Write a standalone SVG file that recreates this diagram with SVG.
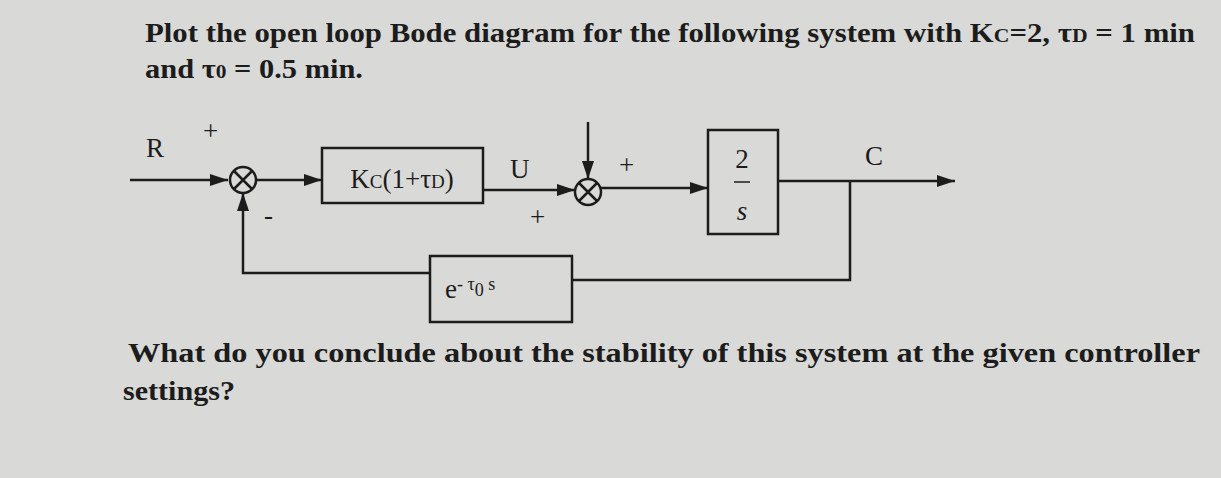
<svg xmlns="http://www.w3.org/2000/svg" width="1221" height="478" viewBox="0 0 1221 478">
<defs>
<marker id="ah2" viewBox="0 0 18 12" markerWidth="18" markerHeight="12" refX="18" refY="6" orient="auto" markerUnits="userSpaceOnUse"><path d="M0,0 L18,6 L0,12 Z" fill="#1c1c1c"/></marker>
</defs>
<style>
text{font-family:"Liberation Serif","DejaVu Serif",serif;fill:#1c1c1c}
.q{font-size:27px;font-weight:bold}
.l{font-size:27px}
.b{fill:none;stroke:#1c1c1c;stroke-width:2.5}
.w{fill:none;stroke:#1c1c1c;stroke-width:2.5}
</style>
<rect width="1221" height="478" fill="#d9d9d7"/>
<text class="q" x="145" y="42" textLength="1050" lengthAdjust="spacingAndGlyphs">Plot the open loop Bode diagram for the following system with K<tspan font-size="19">C</tspan>=2, τ<tspan font-size="19">D</tspan> = 1 min</text>
<text class="q" x="145" y="78" textLength="218" lengthAdjust="spacingAndGlyphs">and τ<tspan font-size="19">0</tspan>  = 0.5 min.</text>
<g id="connectors">
<path class="w" d="M130,180 H228" marker-end="url(#ah2)"/>
<path class="w" d="M256,180 H322" marker-end="url(#ah2)"/>
<path class="w" d="M483,190 H575" marker-end="url(#ah2)"/>
<path class="w" d="M588,122 V179" marker-end="url(#ah2)"/>
<path class="w" d="M601,188 H708" marker-end="url(#ah2)"/>
<path class="w" d="M778,181 H955" marker-end="url(#ah2)"/>
<path class="w" d="M850,181 V280 H572"/>
<path class="w" d="M430,273 H243 V193" marker-end="url(#ah2)"/>
</g>
<g id="sum1"><circle class="b" cx="243" cy="180" r="13"/><path class="b" d="M234,171 L252,189 M252,171 L234,189"/></g>
<g id="sum2"><circle class="b" cx="588" cy="192" r="13"/><path class="b" d="M579,183 L597,201 M597,183 L579,201"/></g>
<g id="controller"><rect class="b" x="322" y="148" width="161" height="55"/><text class="l" x="402" y="188" text-anchor="middle" font-size="28">K<tspan font-size="19">C</tspan>(1+τ<tspan font-size="19">D</tspan>)</text></g>
<g id="plant"><rect class="b" x="708" y="130" width="70" height="104"/><text class="l" x="742" y="168" text-anchor="middle">2</text><path d="M734,182 H750" stroke="#1c1c1c" stroke-width="1.5"/><text class="l" x="742" y="220" text-anchor="middle" font-style="italic">s</text></g>
<g id="delay"><rect class="b" x="430" y="256" width="142" height="66"/><text class="l" x="445" y="298">e<tspan font-size="18" dy="-8">- </tspan><tspan font-size="18">τ</tspan><tspan font-size="18" dy="6">0</tspan><tspan font-size="18" dy="-6"> s</tspan></text></g>
<text class="l" x="146" y="157">R</text>
<text class="l" x="203" y="140">+</text>
<text class="l" x="264" y="224">-</text>
<text class="l" x="510" y="178">U</text>
<text class="l" x="530" y="226">+</text>
<text class="l" x="619" y="174">+</text>
<text class="l" x="865" y="165">C</text>
<text class="q" x="128" y="362" textLength="1072" lengthAdjust="spacingAndGlyphs">What do you conclude about the stability of this system at the given controller</text>
<text class="q" x="123" y="400" textLength="112" lengthAdjust="spacingAndGlyphs">settings?</text>
</svg>
